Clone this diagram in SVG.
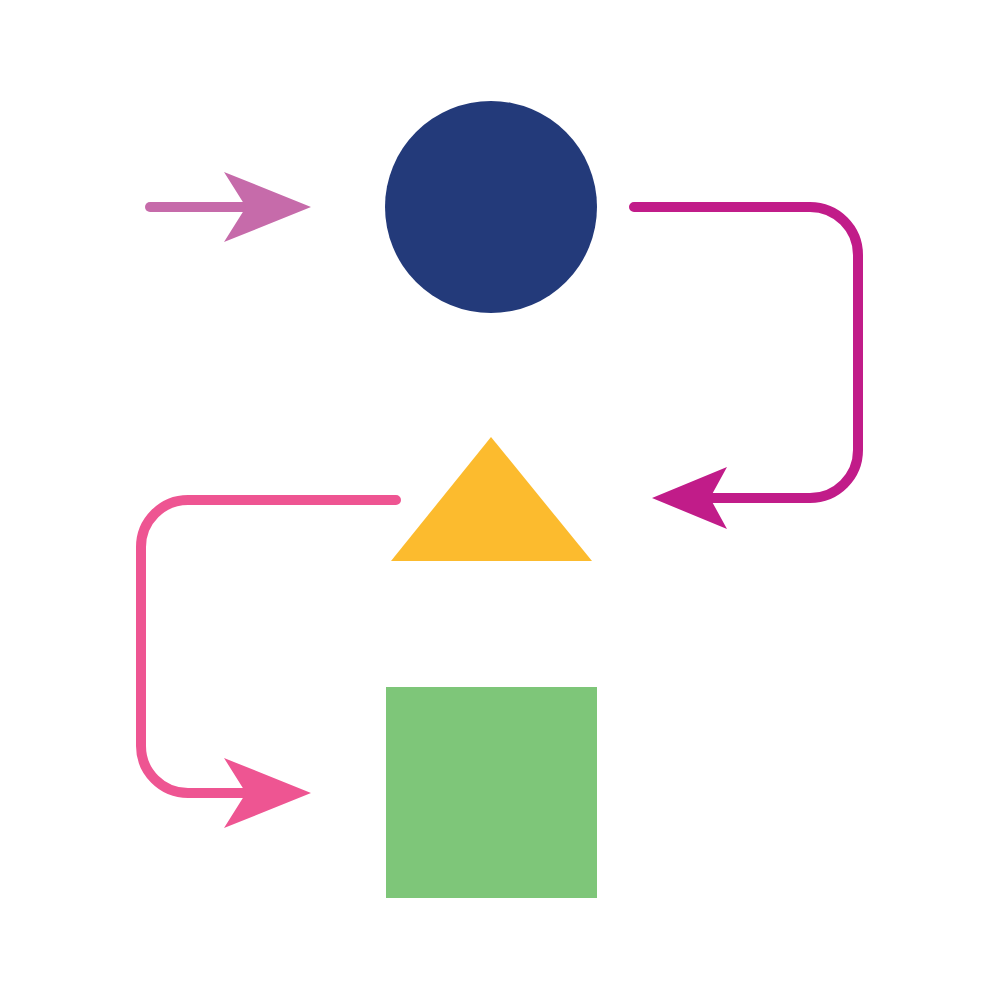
<svg xmlns="http://www.w3.org/2000/svg" width="1000" height="1000" viewBox="0 0 1000 1000">
<style>
.conn{fill:none;stroke-width:10;stroke-linecap:round;stroke-linejoin:round}
</style>
<rect width="1000" height="1000" fill="#ffffff"/>
<g id="connectors">
  <g id="arrow-in">
    <path class="conn" stroke="#c66baa" d="M150,207 H290"/>
    <path fill="#c66baa" d="M311,207 L224,172 L246,207 L224,242 Z"/>
  </g>
  <g id="arrow-circle-triangle">
    <path class="conn" stroke="#c11c89" d="M634,207 H810 A48,48 0 0 1 858,255 V450 A48,48 0 0 1 810,498 H690"/>
    <path fill="#c11c89" d="M652,498 L727,467 L710,498 L727,529 Z"/>
  </g>
  <g id="arrow-triangle-square">
    <path class="conn" stroke="#ee5592" d="M396,500 H188 A47,47 0 0 0 141,547 V746 A47,47 0 0 0 188,793 H290"/>
    <path fill="#ee5592" d="M311,793 L224,758 L246,793 L224,828 Z"/>
  </g>
</g>
<g id="node-circle"><circle cx="491" cy="207" r="106" fill="#233a7a"/></g>
<g id="node-triangle"><polygon points="491,437 592,561 391,561" fill="#fcbb2e"/></g>
<g id="node-square"><rect x="386" y="687" width="211" height="211" fill="#7ec679"/></g>
</svg>
